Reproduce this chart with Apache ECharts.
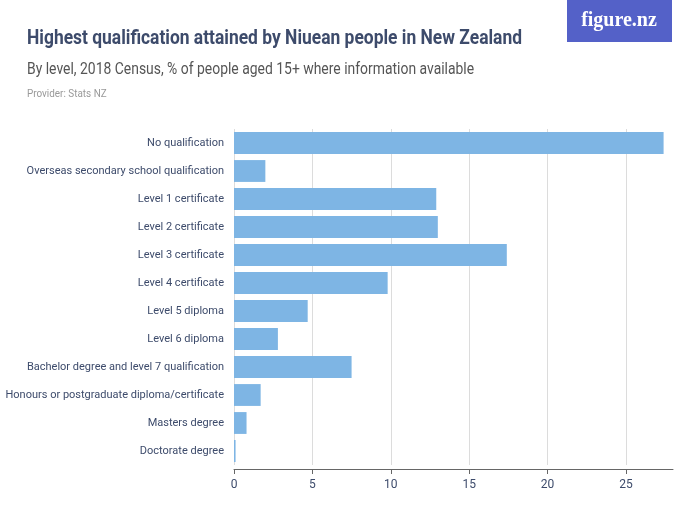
<!DOCTYPE html>
<html>
<head>
<meta charset="utf-8">
<script src="https://cdn.jsdelivr.net/npm/echarts@6/dist/echarts.min.js"></script>
<style>
  html, body { margin: 0; padding: 0; background: #fff; }
  #chart { width: 700px; height: 525px; }
</style>
</head>
<body>
<div id="chart"></div>
<script>
// data
const categories = [
  'No qualification',
  'Overseas secondary school qualification',
  'Level 1 certificate',
  'Level 2 certificate',
  'Level 3 certificate',
  'Level 4 certificate',
  'Level 5 diploma',
  'Level 6 diploma',
  'Bachelor degree and level 7 qualification',
  'Honours or postgraduate diploma/certificate',
  'Masters degree',
  'Doctorate degree'
]
const values = [27.4, 2.0, 12.9, 13.0, 17.4, 9.8, 4.7, 2.8, 7.5, 1.7, 0.8, 0.1]
const xTicks = [0, 5, 10, 15, 20, 25]

const ink = '#3d4b6b'

// the reference font is a condensed grotesque, so squeeze Roboto a bit
function heading (text, y, size, weight, color, squeeze) {
  return {
    type: 'text',
    x: 27, y: y,
    scaleX: squeeze,
    style: {
      text: text, fill: color,
      font: weight + ' ' + size + 'px Roboto, sans-serif'
    }
  }
}

const chart = echarts.init(document.getElementById('chart'))
chart.setOption({
  animation: false,
  graphic: [
    heading('Highest qualification attained by Niuean people in New Zealand', 28, 21, 'bold', ink, 0.83),
    heading('By level, 2018 Census, % of people aged 15+ where information available', 62, 16, 'normal', '#555', 0.87),
    heading('Provider: Stats NZ', 89, 11, 'normal', '#999', 0.9),
    {
      type: 'rect',
      shape: { x: 567, y: 0, width: 105, height: 42 },
      style: { fill: '#5461c8' }
    }, {
      type: 'text',
      x: 619, y: 21,
      style: {
        text: 'figure.nz', fill: '#fff',
        font: 'bold 20px "Liberation Serif", serif',
        align: 'center', verticalAlign: 'middle'
      }
    }
  ],
  grid: { left: 234, right: 27, top: 129, bottom: 60 },
  xAxis: {
    type: 'value',
    min: 0, max: 28, interval: 5,
    offset: 4,
    axisLine: { show: true, lineStyle: { color: '#666', width: 1 } },
    axisTick: { show: true, length: 5, customValues: xTicks, lineStyle: { color: '#666' } },
    axisLabel: {
      color: ink, fontFamily: 'Roboto, sans-serif', fontSize: 12, margin: 10,
      customValues: xTicks
    },
    splitLine: { show: true, lineStyle: { color: '#dcdcdc', width: 1 } }
  },
  yAxis: {
    type: 'category',
    data: categories,
    inverse: true,
    axisLine: { show: false },
    axisTick: { show: false },
    axisLabel: { color: ink, fontFamily: 'Roboto, sans-serif', fontSize: 11, margin: 10 }
  },
  series: [{
    type: 'bar',
    data: values,
    barCategoryGap: '22%',
    itemStyle: { color: '#7eb5e4' }
  }]
})
</script>
</body>
</html>
